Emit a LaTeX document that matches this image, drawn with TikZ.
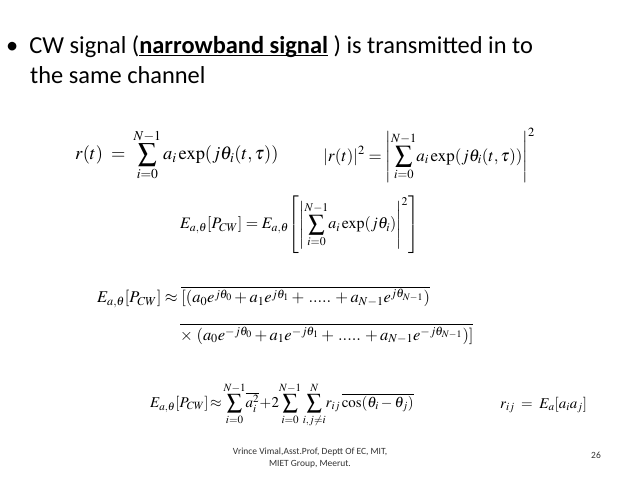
\documentclass[tikz,border=0pt]{standalone}
\usepackage{amsmath}
\usepackage{mathptmx}
\usepackage{fontspec}
\setmainfont{Carlito}
\def\myul#1{\setbox0\hbox{#1}\rlap{\rule[-2.5pt]{\wd0}{1.1pt}}\box0\relax}
\begin{document}
\begin{tikzpicture}[x=1bp,y=-1bp]
\tikzset{eq/.style={inner sep=0pt,font=\fontsize{17}{20}\selectfont},
 body/.style={inner sep=0pt,anchor=base west,font=\fontsize{24.5}{28}\selectfont}}
\useasboundingbox[fill=white] (0,0) rectangle (638,478);
\node[body] (b1) at (6,54) {\textbullet\ \ CW signal (\myul{\textbf{narrowband signal}} ) is transmitted in to};
\node[body] (b2) at (30,84) {the same channel};
\node[eq,anchor=west,font=\fontsize{18.5}{20}\selectfont] (e1) at (75,155) {$r(t)\;=\;\displaystyle\sum_{i=0}^{N-1} a_i\exp(j\theta_i(t,\tau))$};
\node[eq,anchor=west] (e2) at (323,155) {$|r(t)|^2= \displaystyle\left|\sum_{i=0}^{N-1}\! a_i\exp(j\theta_i(t,\tau))\right|^2$};
\node[eq,anchor=west,font=\fontsize{16}{20}\selectfont] (e3) at (180,225) {$E_{a,\theta}[P_{CW}]= E_{a,\theta}\!\left[\left|\displaystyle\sum_{i=0}^{N-1}\! a_i\exp(j\theta_i)\right|^2\right]$};
\node[eq,anchor=west,font=\fontsize{16.5}{20}\selectfont] (e4) at (97,297) {$E_{a,\theta}[P_{CW}]\approx\overline{[(a_0e^{j\theta_0}+a_1e^{j\theta_1}+\,.....\,+a_{N-1}e^{j\theta_{N-1}})}$};
\node[eq,anchor=west,font=\fontsize{16.5}{20}\selectfont] (e5) at (180,334) {$\overline{\times\;(a_0e^{-j\theta_0}+a_1e^{-j\theta_1}+\,.....\,+a_{N-1}e^{-j\theta_{N-1}})]}$};
\node[eq,anchor=west,font=\fontsize{15}{20}\selectfont] (e6) at (150,405) {$E_{a,\theta}[P_{CW}]\!\approx\!\displaystyle\sum_{i=0}^{N-1}\!\overline{a_i^2}\!+\!2\!\sum_{i=0}^{N-1}\sum_{i,j\neq i}^{N}\! r_{ij}\,\overline{\cos(\theta_i-\theta_j)}$};
\node[eq,anchor=west,font=\fontsize{15}{20}\selectfont] (e7) at (500,405) {$r_{ij}\;=\;E_a[a_ia_j]$};
\node[inner sep=0pt,font=\fontsize{9.5}{12}\selectfont,align=center,text=black!80] (ft) at (310,458) {Vrince Vimal,Asst.Prof, Deptt Of EC, MIT,\\MIET Group, Meerut.};
\node[inner sep=0pt,font=\fontsize{9.5}{12}\selectfont,text=black!80] (pg) at (596,455) {26};
\end{tikzpicture}
\end{document}
